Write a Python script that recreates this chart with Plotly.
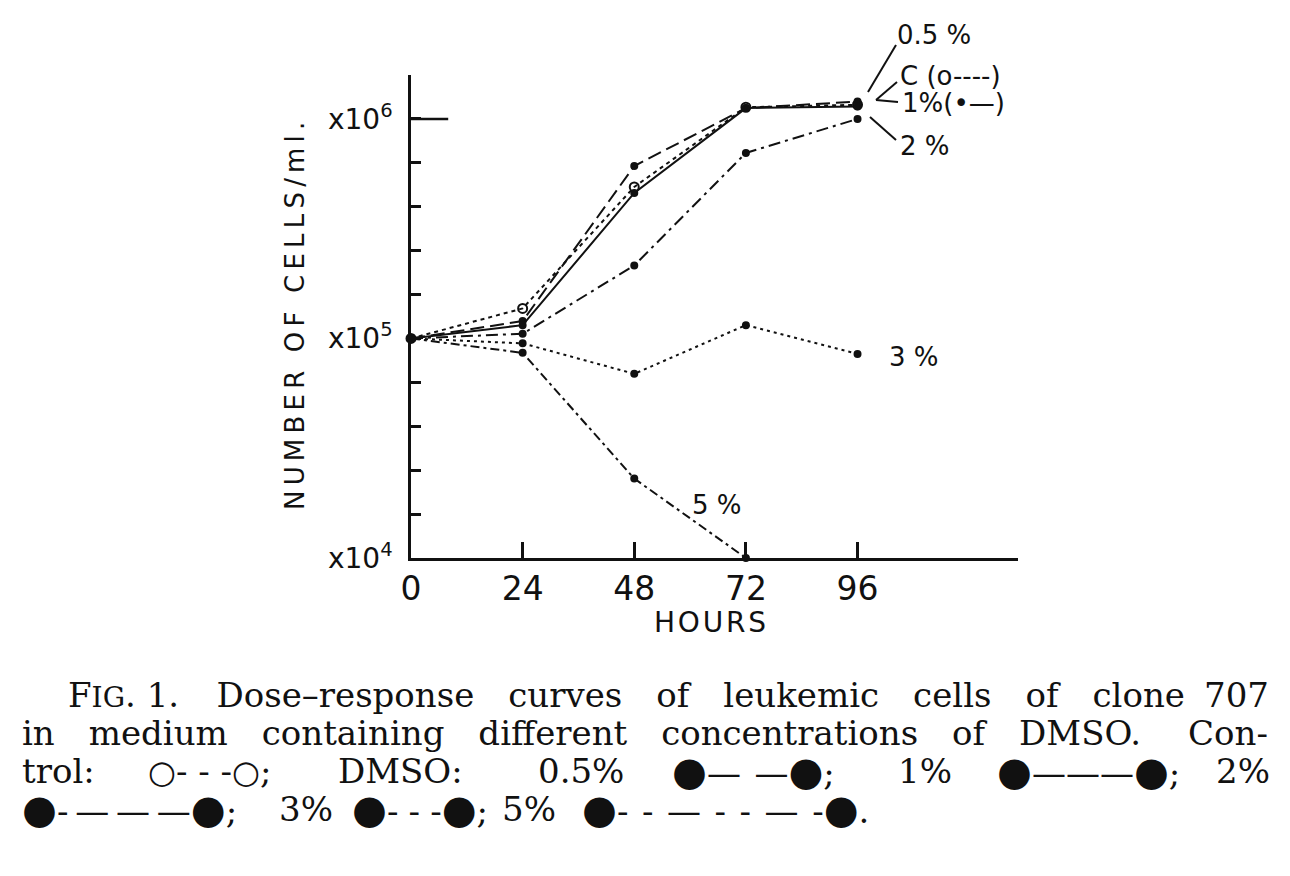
import plotly.graph_objects as go

# cell counts (cells/ml)
hours = [0, 24, 48, 72, 96]
control = [1.0e5, 1.37e5, 4.9e5, 1.13e6, 1.16e6]
dmso_05 = [1.0e5, 1.2e5, 6.1e5, 1.12e6, 1.2e6]
dmso_1 = [1.0e5, 1.15e5, 4.6e5, 1.12e6, 1.14e6]
dmso_2 = [1.0e5, 1.05e5, 2.15e5, 7.0e5, 1.0e6]
dmso_3 = [1.0e5, 9.5e4, 6.9e4, 1.15e5, 8.5e4]
hours_5 = [0, 24, 48, 72]
dmso_5 = [1.0e5, 8.6e4, 2.3e4, 1.0e4]

x_ticks = [0, 24, 48, 72, 96]
decade_labels = {4: "x10<sup>4</sup>", 5: "x10<sup>5</sup>", 6: "x10<sup>6</sup>"}

W, H = 1290, 876
# plot box in picture pixels (the page adds an 8px body margin)
L, R, T, B = 411, 1018, 75, 558
OFF = 8
CAP = 34  # caption font size


def px(x):
    return (x - L) / (R - L)


def py(y):
    return (B - y) / (B - T)


def gap(w):
    # white space of roughly w pixels in the caption font
    en = int(w // (0.5 * CAP))
    hair = int(round((w - en * 0.5 * CAP) / (0.1 * CAP)))
    return "\u2002" * en + "\u200a" * hair


def dot(s="●"):
    return "<span style='font-size:40px'>" + s + "</span>"


def spaced(s, w):
    return w.join(list(s))


fig = go.Figure()

series = [
    ("C", control, hours, "4px,4px", "circle-open", 9),
    ("0.5%", dmso_05, hours, "14px,6px", "circle", 6),
    ("1%", dmso_1, hours, "solid", "circle", 6),
    ("2%", dmso_2, hours, "12px,5px,3px,5px", "circle", 6),
    ("3%", dmso_3, hours, "3px,4px", "circle", 6),
    ("5%", dmso_5, hours_5, "9px,4px,3px,4px", "circle", 6),
]
for name, vals, xs, dash, sym, size in series:
    fig.add_trace(go.Scatter(
        x=xs, y=vals, name=name, mode="lines+markers",
        line=dict(color="#111", width=2, dash=dash),
        marker=dict(symbol=sym, size=size, color="#111", line=dict(color="#111", width=2)),
        cliponaxis=False,
    ))

ytickvals = [10 ** (4 + 0.2 * k) for k in range(12)]
yticktext = [decade_labels.get(k // 5 + 4, "") if k % 5 == 0 else "" for k in range(12)]

fig.update_layout(
    width=W, height=H,
    margin=dict(l=L - OFF, r=W - R + OFF, t=T - OFF, b=H - B + OFF),
    paper_bgcolor="white", plot_bgcolor="white",
    showlegend=False,
    font=dict(family="DejaVu Sans", color="#111"),
    xaxis=dict(
        range=[0, 130.5], showgrid=False, zeroline=False,
        showline=True, linecolor="#111", linewidth=2.5,
        ticks="inside", ticklen=16, tickwidth=2.5, tickcolor="#111",
        tickvals=x_ticks, tickfont=dict(size=33), ticklabelstandoff=0,
    ),
    yaxis=dict(
        type="log", range=[4, 6.2], showgrid=False, zeroline=False,
        showline=True, linecolor="#111", linewidth=2.5,
        ticks="inside", ticklen=10, tickwidth=2.5, tickcolor="#111",
        tickvals=ytickvals, ticktext=yticktext, tickfont=dict(size=28),
        ticklabelstandoff=10,
    ),
)

# longer tick at 10^6
fig.add_shape(type="line", xref="x", yref="y", x0=0, x1=8, y0=1e6, y1=1e6,
              line=dict(color="#111", width=2.5))

# axis titles
fig.add_annotation(x=px(295), y=py(316), xref="paper", yref="paper",
                   text=spaced("NUMBER OF CELLS/ml.", "\u2009"),
                   textangle=-90, xanchor="center", yanchor="middle",
                   showarrow=False, font=dict(size=26))
fig.add_annotation(x=px(710), y=py(622), xref="paper", yref="paper",
                   text=spaced("HOURS", "\u200a"), xanchor="center", yanchor="middle",
                   showarrow=False, font=dict(size=28))

# curve labels
labels = [
    ("0.5 %", 895, 35),
    ("C (o----)", 898, 76),
    ("1%(•—)", 900, 103),
    ("2 %", 898, 146),
    ("3 %", 887, 357),
    ("5 %", 690, 505),
]
for txt, lx, ly in labels:
    fig.add_annotation(x=px(lx), y=py(ly), xref="paper", yref="paper", text=txt,
                       xanchor="left", yanchor="middle", showarrow=False, font=dict(size=26))

leaders = [
    ((868, 92), (896, 45)),
    ((876, 100), (897, 82)),
    ((876, 100), (898, 102)),
    ((870, 117), (896, 140)),
]
for (x0, y0), (x1, y1) in leaders:
    fig.add_shape(type="line", xref="paper", yref="paper",
                  x0=px(x0), y0=py(y0), x1=px(x1), y1=py(y1),
                  line=dict(color="#111", width=2))

# caption, justified by hand: (text, left x, anchor) pieces per line
g1, g2 = gap(34), gap(33)
g4 = gap(13)
caption_lines = [
    (695, [("F<span style='font-size:28px'>IG</span>. 1." + gap(36) +
            g1.join(["Dose–response", "curves", "of", "leukemic", "cells", "of", "clone"]), 66, "left"),
           ("707", 1271, "right")]),
    (733, [(g2.join(["in", "medium", "containing", "different", "concentrations", "of", "DMSO."]), 20, "left"),
           ("Con-", 1270, "right")]),
    (771, [("trol:", 20, "left"),
           ("<span style='font-size:32px'>○</span>- - -<span style='font-size:32px'>○</span>;", 146, "left"),
           ("DMSO:", 336, "left"),
           ("0.5%", 536, "left"),
           (dot() + "—" + gap(14) + "—" + dot() + ";", 670, "left"),
           ("1%", 896, "left"),
           (dot() + "———" + dot() + ";", 995, "left"),
           ("2%", 1272, "right")]),
    (809, [(dot() + "-" + gap(8) + "—" + gap(8) + "—" + gap(8) + "—" + dot() + ";", 20, "left"),
           ("3%", 277, "left"),
           (dot() + "-" + gap(9) + "-" + gap(9) + "-" + dot() + ";", 350, "left"),
           ("5%", 500, "left"),
           (dot() + "-" + g4 + "-" + g4 + "—" + g4 + "-" + g4 + "-" + g4 + "—" + g4 + "-" +
            dot() + ".", 580, "left")]),
]
for cy, pieces in caption_lines:
    for txt, cx, anchor in pieces:
        fig.add_annotation(x=px(cx), y=py(cy), xref="paper", yref="paper", text=txt,
                           xanchor=anchor, yanchor="middle", showarrow=False,
                           font=dict(family="DejaVu Serif", size=CAP, color="#111"))

fig.write_html("out.html")
